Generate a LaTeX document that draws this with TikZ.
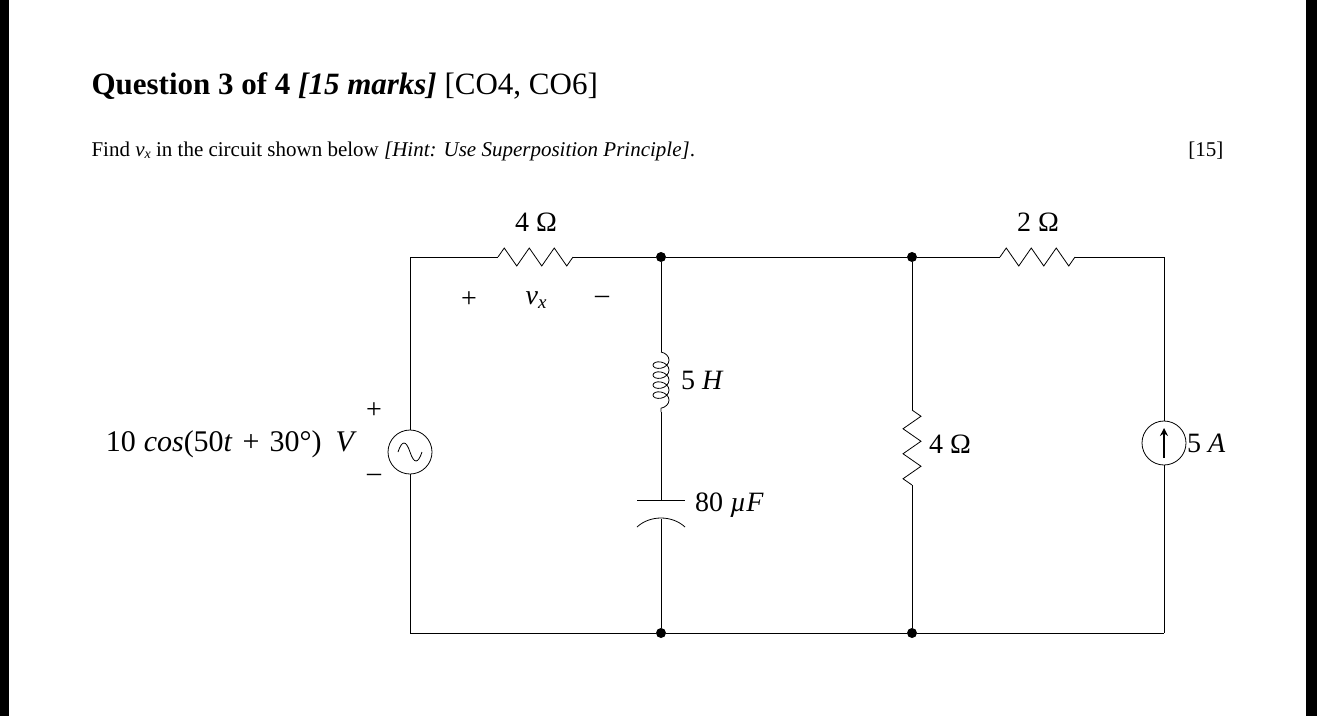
\documentclass[tikz,border=0pt]{standalone}
\usepackage{fontspec}
\setmainfont{Liberation Serif}
\usetikzlibrary{decorations.pathmorphing,decorations.pathreplacing,arrows.meta}
\begin{document}
\begin{tikzpicture}[x=1pt,y=-1pt,
  wire/.style={line width=0.8pt},
  dot/.style={circle,fill,inner sep=0pt,minimum size=10pt},
  lbl/.style={font=\fontsize{28}{30}\selectfont,inner sep=1pt},
  zig/.style={line width=0.8pt,decorate,decoration={zigzag,segment length=25pt,amplitude=9pt}}]
\useasboundingbox (0,0) rectangle (1317,716);
\fill (0,0) rectangle (9,716);
\fill (1306,0) rectangle (1317,716);
\node[anchor=base west,font=\fontsize{31}{34}\selectfont] (title) at (88,94) {\textbf{Question 3 of 4 \textit{[15 marks]}} [CO4, CO6]};
\node[anchor=base west,font=\fontsize{21}{24}\selectfont] (q) at (88,156) {Find \textit{v\raisebox{-0.3ex}{\fontsize{14}{14}\selectfont x}} in the circuit shown below \textit{[Hint: Use Superposition Principle]}.};
\node[anchor=base east,font=\fontsize{21}{24}\selectfont] (m) at (1227,156) {[15]};
% coordinates
\coordinate (TL) at (410,257); \coordinate (BL) at (410,633);
\node[dot] (T1) at (661,257) {}; \node[dot] (B1) at (661,633) {};
\node[dot] (T2) at (912,257) {}; \node[dot] (B2) at (912,633) {};
\coordinate (TR) at (1164,257); \coordinate (BR) at (1164,633);
% top wire with resistors
\coordinate (r1a) at (498,257); \coordinate (r1b) at (573,257);
\coordinate (r2a) at (1000,257); \coordinate (r2b) at (1075,257);
\draw[wire] (TL) -- (r1a); \draw[zig] (r1a) -- (r1b); \draw[wire] (r1b) -- (T1) -- (T2) -- (r2a);
\draw[zig] (r2a) -- (r2b); \draw[wire] (r2b) -- (TR);
\draw[wire] (BL) -- (B1) -- (B2) -- (BR);
% voltage source
\node[circle,draw,line width=0.8pt,minimum size=44pt,inner sep=0pt] (vs) at (410,452) {};
\draw[wire] (TL) -- (vs.north); \draw[wire] (vs.south) -- (BL);
\draw[line width=0.8pt] (398,452) .. controls (402,440) and (406,440) .. (410,452) .. controls (414,464) and (418,464) .. (422,452);
\node[lbl] (vp) at (374,411) {+};
\node[lbl] (vm) at (374,478) {\textendash};
\node[lbl,anchor=east,font=\fontsize{30}{32}\selectfont] (vl) at (358,444) {10\hspace{8pt}\textit{cos}(50\textit{t}\hspace{10pt}+\hspace{10pt}30°)\hspace{14pt}\textit{V}};
% current source
\node[circle,draw,line width=0.8pt,minimum size=44pt,inner sep=0pt] (cs) at (1164,443) {};
\draw[wire] (TR) -- (cs.north); \draw[wire] (cs.south) -- (BR);
\draw[line width=1.2pt,-{Stealth[length=8pt,width=8pt]}] (1164,458) -- (1164,428);
\node[lbl,anchor=west] (cl) at (1186,443) {5 \textit{A}};
% inductor branch
\coordinate (La) at (661,352); \coordinate (Lb) at (661,412);
\draw[wire] (T1) -- (La);
\draw[line width=0.8pt,decorate,decoration={coil,aspect=0.7,segment length=10pt,amplitude=8pt}] (La) -- (Lb);
\draw[wire] (Lb) -- (661,500);
\draw[line width=0.8pt] (637,500) -- (685,500);
\draw[line width=0.8pt] (637,527) .. controls (650,515) and (672,515) .. (685,527);
\draw[wire] (661,519) -- (B1);
\node[lbl,anchor=west] (ll) at (680,380) {5 \textit{H}};
\node[lbl,anchor=west] (cl2) at (694,505) {80 \textit{µF}};
% vertical resistor
\coordinate (Ra) at (912,410); \coordinate (Rb) at (912,485);
\draw[wire] (T2) -- (Ra);
\draw[zig] (Ra) -- (Rb);
\draw[wire] (Rb) -- (B2);
\node[lbl,anchor=west] (rl) at (928,444) {4 Ω};
% labels top
\node[lbl] (r1l) at (536,222) {4 Ω};
\node[lbl] (r2l) at (1038,222) {2 Ω};
\node[lbl] (p) at (469,300) {+};
\node[lbl] (vx) at (536,300) {\textit{v\raisebox{-0.3ex}{\fontsize{19}{19}\selectfont x}}};
\node[lbl] (mm) at (602,300) {\textendash};
\end{tikzpicture}
\end{document}
